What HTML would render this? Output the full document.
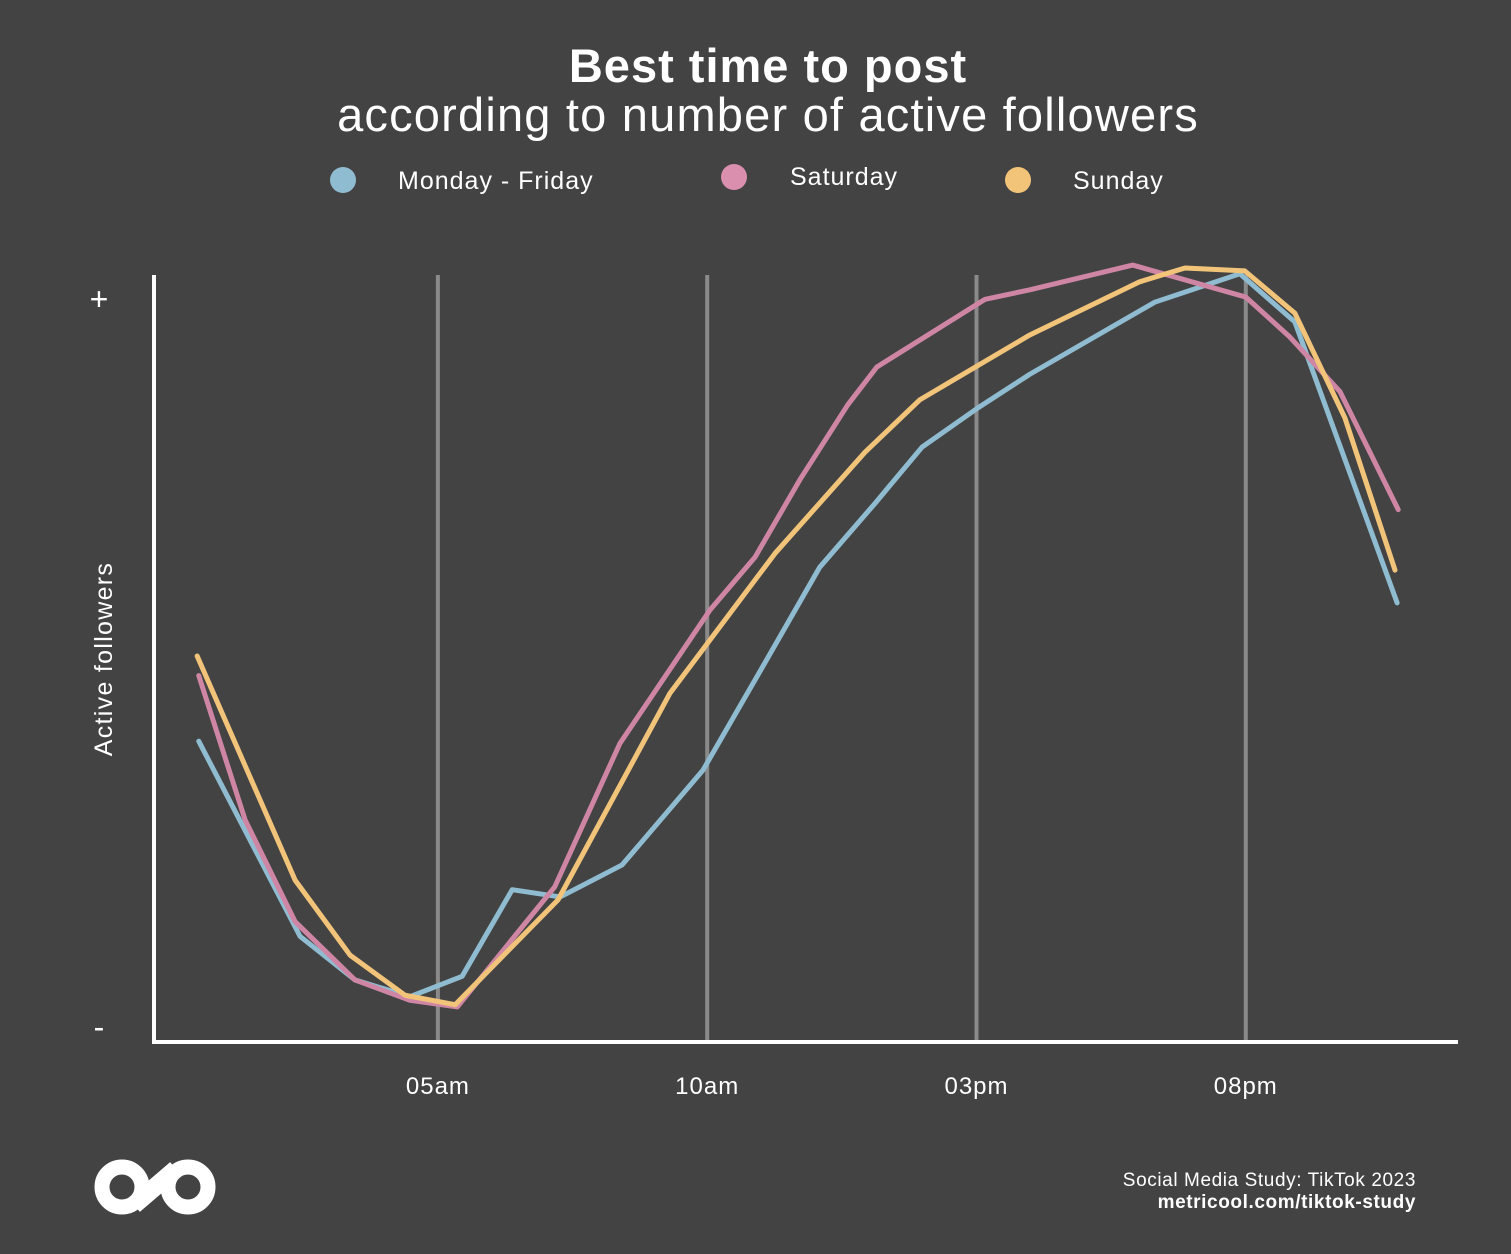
<!DOCTYPE html>
<html><head><meta charset="utf-8"><style>
body{margin:0;background:#434343;}
svg{display:block;font-family:"Liberation Sans",sans-serif;}
</style></head><body>
<svg id="chart" width="1511" height="1254" viewBox="0 0 1511 1254">
<rect width="1511" height="1254" fill="#434343"/>
<text x="768" y="82" text-anchor="middle" fill="#fff" font-size="47" font-weight="bold" letter-spacing="1">Best time to post</text>
<text x="768" y="131" text-anchor="middle" fill="#fff" font-size="47" letter-spacing="1.2">according to number of active followers</text>
<g>
<circle cx="343" cy="180" r="13" fill="#8fbcd0"/>
<text x="398" y="189" fill="#fff" font-size="25" letter-spacing="1">Monday - Friday</text>
<circle cx="734" cy="177" r="13" fill="#d98fad"/>
<text x="790" y="185" fill="#fff" font-size="25" letter-spacing="1">Saturday</text>
<circle cx="1018" cy="180" r="13" fill="#f2c47a"/>
<text x="1073" y="189" fill="#fff" font-size="25" letter-spacing="1">Sunday</text>
</g>
<g id="grid"></g>
<line x1="154" y1="275" x2="154" y2="1044" stroke="#fff" stroke-width="4"/>
<line x1="152" y1="1042" x2="1458" y2="1042" stroke="#fff" stroke-width="4"/>
<text x="99" y="310" text-anchor="middle" fill="#fff" font-size="32">+</text>
<text x="99" y="1038" text-anchor="middle" fill="#fff" font-size="32">-</text>
<text transform="translate(112,659) rotate(-90)" text-anchor="middle" fill="#fff" font-size="25" letter-spacing="1.3">Active followers</text>
<g id="series"></g>
<g>
<line x1="134" y1="1205" x2="176" y2="1169" stroke="#fff" stroke-width="18"/>
<circle cx="122" cy="1187" r="20" fill="none" stroke="#fff" stroke-width="15"/>
<circle cx="188" cy="1187" r="20" fill="none" stroke="#fff" stroke-width="15"/>
</g>
<text x="1416" y="1186" text-anchor="end" fill="#fff" font-size="19" letter-spacing="0.6">Social Media Study: TikTok 2023</text>
<text x="1416" y="1208" text-anchor="end" fill="#fff" font-size="19" font-weight="bold" letter-spacing="0.6">metricool.com/tiktok-study</text>
</svg>
<script>
const tickHours=[5,10,15,20];
const tickLabels=["05am","10am","03pm","08pm"];
const weekdayHours=[0.56,2.44,3.46,4.48,5.45,6.38,7.27,8.42,9.92,11.02,12.09,13.12,13.99,15.03,15.99,18.31,19.89,20.91,22.81];
const weekdayValues=[39.4,12.6,6.6,4.3,7.1,19.0,18.0,22.4,35.4,49.5,63.3,72.1,79.8,85.2,89.8,99.7,103.6,97,58.4];
const saturdayHours=[0.56,1.42,2.35,3.46,4.48,5.36,7.17,8.38,10.05,10.89,11.72,12.61,13.15,15.16,15.99,17.9,20.0,20.82,21.75,22.83];
const saturdayValues=[48.4,28.6,14.6,6.6,3.8,2.9,19.4,39.1,57.4,64.7,75.3,85.6,90.8,100.1,101.4,104.8,100.4,94.9,87.4,71.2];
const sundayHours=[0.53,2.35,3.37,4.39,5.32,7.23,9.31,11.26,12.93,13.95,15.99,18.03,18.87,19.98,20.91,21.84,22.77];
const sundayValues=[51.1,20.3,10.0,4.5,3.2,17.6,46.0,65.2,79.1,86.3,95.2,102.5,104.4,104.0,98.2,83.8,62.9];

const NS="http://www.w3.org/2000/svg";
const xScale=h=>168.6+h*53.86;
const yScale=v=>1028-v*7.28;
const grid=document.getElementById('grid');
tickHours.forEach((h,i)=>{
  const l=document.createElementNS(NS,'line');
  l.setAttribute('x1',xScale(h));l.setAttribute('x2',xScale(h));
  l.setAttribute('y1',275);l.setAttribute('y2',1040);
  l.setAttribute('stroke','#8a8a8a');l.setAttribute('stroke-width',4);
  
  
  grid.appendChild(l);
  const t=document.createElementNS(NS,'text');
  t.setAttribute('x',xScale(h));t.setAttribute('y',1094);
  t.setAttribute('text-anchor','middle');t.setAttribute('fill','#fff');t.setAttribute('font-size',24);
  t.setAttribute('letter-spacing',1);
  t.textContent=tickLabels[i];
  
  
  grid.appendChild(t);
});
const series=document.getElementById('series');
function draw(hs,vs,color,name){
  const p=document.createElementNS(NS,'polyline');
  p.setAttribute('points',hs.map((h,i)=>xScale(h)+','+yScale(vs[i])).join(' '));
  p.setAttribute('fill','none');p.setAttribute('stroke',color);p.setAttribute('stroke-width',5);
  p.setAttribute('stroke-linecap','round');p.setAttribute('stroke-linejoin','round');
  
  
  series.appendChild(p);
}
draw(weekdayHours,weekdayValues,'#8fbcd0','weekday-line');
draw(saturdayHours,saturdayValues,'#cf86a4','saturday-line');
draw(sundayHours,sundayValues,'#f2c47a','sunday-line');
</script>
</body></html>
